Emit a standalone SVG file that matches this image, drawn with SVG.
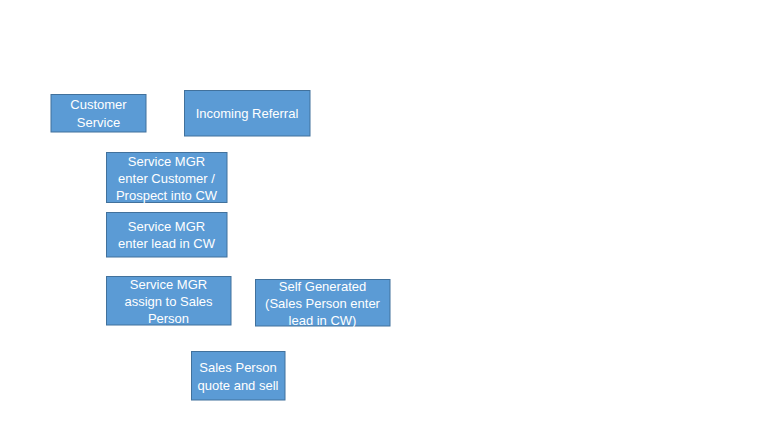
<svg xmlns="http://www.w3.org/2000/svg" width="768" height="433" viewBox="0 0 768 433">
<style>
.box{fill:#5B9BD5;stroke:#41719C;stroke-width:1}
.t{font-family:"Liberation Sans","Open Sans",sans-serif;font-size:13px;fill:#ffffff;text-anchor:middle}
</style>
<rect width="768" height="433" fill="#ffffff"/>
<g id="connectors"></g>
<g id="customer-service">
<rect class="box" x="51" y="94.5" width="95" height="37.5"/>
<text class="t" x="98.5" y="108.5">Customer</text>
<text class="t" x="98.5" y="126.5">Service</text>
</g>
<g id="incoming-referral">
<rect class="box" x="184.5" y="90.5" width="125.5" height="45.5"/>
<text class="t" x="247" y="117.5">Incoming Referral</text>
</g>
<g id="enter-customer">
<rect class="box" x="106.5" y="152.5" width="120.5" height="50"/>
<text class="t" x="166.5" y="165.5">Service MGR</text>
<text class="t" x="166.5" y="182.5">enter Customer /</text>
<text class="t" x="166.5" y="199.5">Prospect into CW</text>
</g>
<g id="enter-lead">
<rect class="box" x="106.5" y="212.5" width="120.5" height="44.5"/>
<text class="t" x="166.5" y="231">Service MGR</text>
<text class="t" x="166.5" y="248">enter lead in CW</text>
</g>
<g id="assign-sales">
<rect class="box" x="106.5" y="276.5" width="124.5" height="48.5"/>
<text class="t" x="168.5" y="289">Service MGR</text>
<text class="t" x="168.5" y="306">assign to Sales</text>
<text class="t" x="168.5" y="323">Person</text>
</g>
<g id="self-generated">
<rect class="box" x="255.5" y="279.5" width="134.5" height="46.5"/>
<text class="t" x="322.5" y="291">Self Generated</text>
<text class="t" x="322.5" y="308">(Sales Person enter</text>
<text class="t" x="322.5" y="325">lead in CW)</text>
</g>
<g id="quote-sell">
<rect class="box" x="191.5" y="351.5" width="93.5" height="48.5"/>
<text class="t" x="238" y="372">Sales Person</text>
<text class="t" x="238" y="390">quote and sell</text>
</g>
</svg>
